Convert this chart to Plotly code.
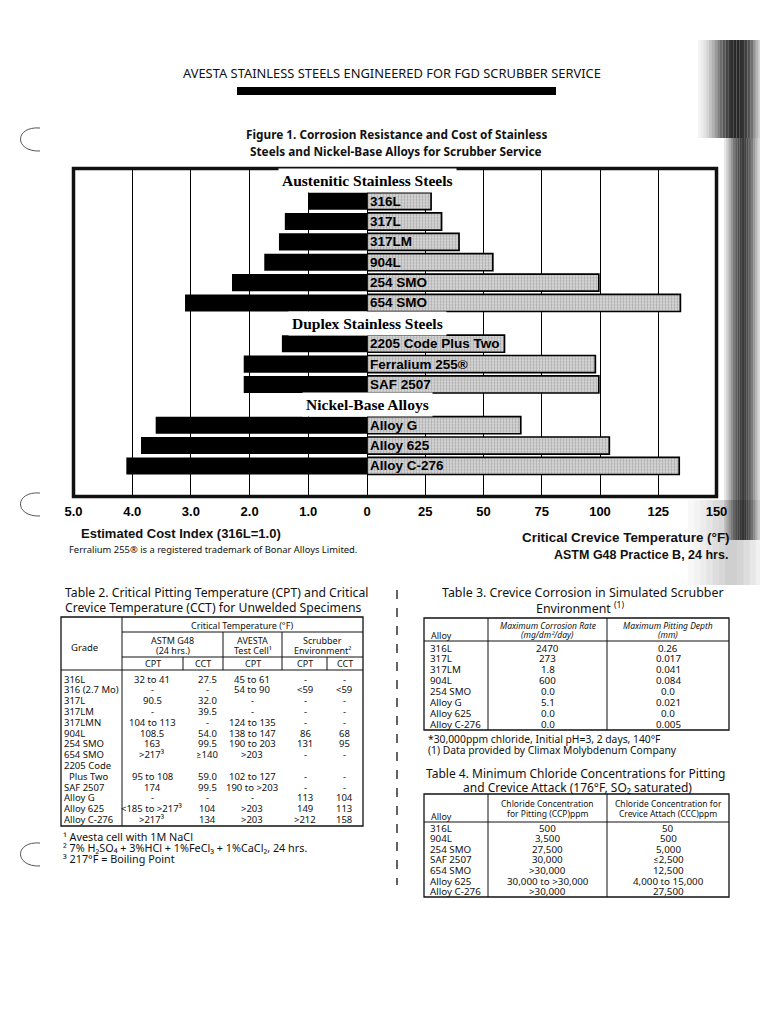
import plotly.graph_objects as go

W, H = 768, 1024
OFF = 8  # the page body margin that shifts the figure inside the browser window

# ---------------- Figure 1 data ----------------
group_names = ["Austenitic Stainless Steels", "Duplex Stainless Steels", "Nickel-Base Alloys"]
alloys = ["316L", "317L", "317LM", "904L", "254 SMO", "654 SMO",
          "2205 Code Plus Two", "Ferralium 255®", "SAF 2507",
          "Alloy G", "Alloy 625", "Alloy C-276"]
alloy_group = [0, 0, 0, 0, 0, 0, 1, 1, 1, 2, 2, 2]
cost_index = [1.0, 1.4, 1.5, 1.75, 2.3, 3.1, 1.45, 2.1, 2.1, 3.6, 3.85, 4.1]
cct_f = [27.5, 32.0, 39.5, 54.0, 99.5, 134.5, 59.0, 98.0, 99.5, 66.0, 104.0, 134.0]
cost_ticks = [5, 4, 3, 2, 1, 0]
cost_tick_text = ["5.0", "4.0", "3.0", "2.0", "1.0", "0"]
temp_ticks = [25, 50, 75, 100, 125, 150]
temp_tick_text = ["25", "50", "75", "100", "125", "150"]

# ---------------- Table 2 data ----------------
t2_grades = ["316L", "316 (2.7 Mo)", "317L", "317LM", "317LMN", "904L", "254 SMO",
             "654 SMO", "2205 Code", "  Plus Two", "SAF 2507", "Alloy G", "Alloy 625", "Alloy C-276"]
t2_astm_cpt = ["32 to 41", "-", "90.5", "-", "104 to 113", "108.5", "163", ">217³", "",
               "95 to 108", "174", "-", "<185 to >217³", ">217³"]
t2_astm_cct = ["27.5", "-", "32.0", "39.5", "-", "54.0", "99.5", "≥140", "",
               "59.0", "99.5", "-", "104", "134"]
t2_avesta_cpt = ["45 to 61", "54 to 90", "-", "-", "124 to 135", "138 to 147", "190 to 203", ">203", "",
                 "102 to 127", "190 to >203", "-", ">203", ">203"]
t2_scr_cpt = ["-", "<59", "-", "-", "-", "86", "131", "-", "", "-", "-", "113", "149", ">212"]
t2_scr_cct = ["-", "<59", "-", "-", "-", "68", "95", "-", "", "-", "-", "104", "113", "158"]
t2_notes = ["¹ Avesta cell with 1M NaCl",
            "² 7% H₂SO₄ + 3%HCl + 1%FeCl₃ + 1%CaCl₂, 24 hrs.",
            "³ 217°F = Boiling Point"]

# ---------------- Table 3 data ----------------
t3_alloys = ["316L", "317L", "317LM", "904L", "254 SMO", "Alloy G", "Alloy 625", "Alloy C-276"]
t3_rate = ["2470", "273", "1.8", "600", "0.0", "5.1", "0.0", "0.0"]
t3_depth = ["0.26", "0.017", "0.041", "0.084", "0.0", "0.021", "0.0", "0.005"]
t3_notes = ["*30,000ppm chloride, Initial pH=3, 2 days, 140°F",
            "(1) Data provided by Climax Molybdenum Company"]

# ---------------- Table 4 data ----------------
t4_alloys = ["316L", "904L", "254 SMO", "SAF 2507", "654 SMO", "Alloy 625", "Alloy C-276"]
t4_ccp = ["500", "3,500", "27,500", "30,000", ">30,000", "30,000 to >30,000", ">30,000"]
t4_ccc = ["50", "500", "5,000", "≤2,500", "12,500", "4,000 to 15,000", "27,500"]

# ---------------- fonts ----------------
SANS = "Liberation Sans, Arial, sans-serif"
SERIF = "Liberation Serif, Times New Roman, serif"
GEO = "Noto Sans, Lato, sans-serif"
INK = "#111111"


def px(x):
    return (x - OFF) / W


def py(y):
    return 1 - (y - OFF) / H


annotations = []
shapes = []


def note(x, y, text, size=10.5, family=GEO, anchor="left", color=INK):
    annotations.append(dict(x=px(x), y=py(y), xref="paper", yref="paper", text=text,
                            showarrow=False, xanchor=anchor, yanchor="middle",
                            borderpad=0, font=dict(family=family, size=size, color=color)))


def hline(x0, x1, y, w=1.0, dash="solid"):
    shapes.append(dict(type="line", xref="paper", yref="paper", x0=px(x0), x1=px(x1),
                       y0=py(y), y1=py(y), line=dict(color=INK, width=w, dash=dash)))


def vline(x, y0, y1, w=1.0, dash="solid"):
    shapes.append(dict(type="line", xref="paper", yref="paper", x0=px(x), x1=px(x),
                       y0=py(y0), y1=py(y1), line=dict(color=INK, width=w, dash=dash)))


def rect(x0, y0, x1, y1, w=1.0, fill=None, opacity=1.0):
    d = dict(type="rect", xref="paper", yref="paper", x0=px(x0), x1=px(x1),
             y0=py(y1), y1=py(y0), opacity=opacity, layer="above")
    d["line"] = dict(color=INK, width=w) if w > 0 else dict(width=0)
    if fill:
        d["fillcolor"] = fill
    shapes.append(d)


# ---------------- chart ----------------
row_order = []
for g, gname in enumerate(group_names):
    row_order.append(gname)
    row_order += [a for a, ag in zip(alloys, alloy_group) if ag == g]

fig = go.Figure()
fig.add_trace(go.Bar(
    y=alloys, x=cost_index, orientation="h", xaxis="x", yaxis="y",
    marker=dict(color="#000000", line=dict(width=0)), width=0.84,
    hoverinfo="skip", showlegend=False))
fig.add_trace(go.Bar(
    y=alloys, x=cct_f, orientation="h", xaxis="x2", yaxis="y",
    marker=dict(color="#dcdcdc", line=dict(color="#000000", width=1.7),
                pattern=dict(shape=".", fgcolor="#7a7a7a", bgcolor="#dcdcdc",
                             size=3, solidity=0.45, fillmode="overlay")),
    width=0.84, text=alloys, textposition="inside", insidetextanchor="start",
    constraintext="none", cliponaxis=False,
    textfont=dict(family=SANS, size=13.5, color="#000000", weight="bold"),
    hoverinfo="skip", showlegend=False))

# frame geometry (pixels in the reference page)
FX0, FX1, FY0, FY1 = 73.5, 716.5, 168.5, 496.5
ZERO_X = 367.0

for g in group_names:
    annotations.append(dict(x=0, y=g, xref="x2", yref="y", text="<b>%s</b>" % g,
                            showarrow=False, xanchor="center", yanchor="middle",
                            bgcolor="white", borderpad=3,
                            font=dict(family=SERIF, size=15.5, color="#000")))

axis_font = dict(family=SANS, size=13, color="#000", weight="bold")
fig.update_layout(
    template="none",
    width=W, height=H, autosize=False,
    margin=dict(l=0, r=0, t=0, b=0, pad=0),
    paper_bgcolor="white", plot_bgcolor="white",
    barmode="overlay", showlegend=False,
    xaxis=dict(domain=[px(FX0), px(ZERO_X)], range=[5, 0], tickvals=cost_ticks,
               ticktext=cost_tick_text, showgrid=True, gridcolor="#000", gridwidth=1.2,
               zeroline=False, showline=False, ticks="", tickfont=axis_font,
               ticklabelstandoff=5,
               anchor="y", fixedrange=True, automargin=False),
    xaxis2=dict(domain=[px(ZERO_X), px(FX1)], range=[0, 150], tickvals=temp_ticks,
                ticktext=temp_tick_text, showgrid=True, gridcolor="#000", gridwidth=1.2,
                zeroline=True, zerolinecolor="#000", zerolinewidth=1.2,
                showline=False, ticks="", tickfont=axis_font, anchor="y",
                ticklabelstandoff=5,
                fixedrange=True, automargin=False),
    yaxis=dict(domain=[py(FY1), py(FY0)], type="category", categoryorder="array",
               categoryarray=row_order, range=[15.5, -0.6], showticklabels=False,
               showgrid=False, zeroline=False, fixedrange=True, automargin=False),
)

# chart frame
rect(FX0, FY0, FX1, FY1, w=3.5)

# axis titles and notes
note(80, 533, "<b>Estimated Cost Index (316L=1.0)</b>", size=13, family=SANS)
note(68, 549, "Ferralium 255® is a registered trademark of Bonar Alloys Limited.", size=9.4)
note(731, 537, "<b>Critical Crevice Temperature (°F)</b>", size=13.4, family=SANS, anchor="right")
note(729, 555, "<b>ASTM G48 Practice B, 24 hrs.</b>", size=12.5, family=SANS, anchor="right")

# ---------------- page header ----------------
note(392, 73, "AVESTA STAINLESS STEELS ENGINEERED FOR FGD SCRUBBER SERVICE", size=12.9, anchor="center")
rect(237, 87, 556, 95, w=0, fill="#000")
note(396, 134, "<b>Figure 1. Corrosion Resistance and Cost of Stainless</b>", size=11.8, anchor="center")
note(396, 151, "<b>Steels and Nickel-Base Alloys for Scrubber Service</b>", size=11.8, anchor="center")

# ---------------- Table 2 ----------------
note(64, 592, "Table 2. Critical Pitting Temperature (CPT) and Critical", size=12.2)
note(64, 607, "Crevice Temperature (CCT) for Unwelded Specimens", size=12.2)
T2L, T2R, T2T, T2B = 61, 363, 617, 826
G1, CP1, AV, SC, CP2 = 122, 183, 223, 282, 327
rect(T2L, T2T, T2R, T2B, w=1.3)
hline(G1, T2R, 632)
hline(G1, T2R, 657)
hline(T2L, T2R, 670)
vline(G1, T2T, T2B)
vline(AV, 632, 670)
vline(SC, 632, 670)
vline(CP1, 657, 670)
vline(CP2, 657, 670)
note((G1 + T2R) / 2, 625, "Critical Temperature (°F)", size=9, anchor="center")
note(70, 647, "Grade", size=9.5)
note((G1 + AV) / 2, 640, "ASTM G48", size=9, anchor="center")
note((G1 + AV) / 2, 650, "(24 hrs.)", size=9, anchor="center")
note((AV + SC) / 2, 640, "AVESTA", size=9, anchor="center")
note((AV + SC) / 2, 650, "Test Cell¹", size=9, anchor="center")
note((SC + T2R) / 2, 640, "Scrubber", size=9, anchor="center")
note((SC + T2R) / 2, 650, "Environment²", size=9, anchor="center")
for cx, lab in [((G1 + CP1) / 2, "CPT"), ((CP1 + AV) / 2, "CCT"), ((AV + SC) / 2, "CPT"),
                ((SC + CP2) / 2, "CPT"), ((CP2 + T2R) / 2, "CCT")]:
    note(cx, 663.5, lab, size=9, anchor="center")
col_x = [152, 207, 252, 305, 344]
for i, grade in enumerate(t2_grades):
    y = 679 + 10.8 * i
    note(63, y, grade, size=9.5)
    for cx, vals in zip(col_x, [t2_astm_cpt, t2_astm_cct, t2_avesta_cpt, t2_scr_cpt, t2_scr_cct]):
        if vals[i]:
            note(cx, y, vals[i], size=9.5, anchor="center")
for i, t in enumerate(t2_notes):
    note(62, 836 + 11 * i, t, size=10.8)

# divider between the columns
vline(397, 590, 885, w=1.3, dash="dash")

# ---------------- Table 3 ----------------
note(583, 592, "Table 3. Crevice Corrosion in Simulated Scrubber", size=12.4, anchor="center")
note(580, 608, "Environment <sup>(1)</sup>", size=12.4, anchor="center")
T3L, T3R, T3T, T3B = 424, 729, 618, 730
C31, C32 = 488, 607
rect(T3L, T3T, T3R, T3B, w=1.3)
hline(T3L, T3R, 641)
vline(C31, T3T, T3B)
vline(C32, T3T, T3B)
note(430, 635, "Alloy", size=9)
note((C31 + C32) / 2, 625, "<i>Maximum Corrosion Rate</i>", size=8.5, anchor="center")
note((C31 + C32) / 2, 634, "<i>(mg/dm²/day)</i>", size=8.5, anchor="center")
note((C32 + T3R) / 2, 625, "<i>Maximum Pitting Depth</i>", size=8.5, anchor="center")
note((C32 + T3R) / 2, 634, "<i>(mm)</i>", size=8.5, anchor="center")
for i, a in enumerate(t3_alloys):
    y = 648 + 10.9 * i
    note(429, y, a, size=9.8)
    note((C31 + C32) / 2, y, t3_rate[i], size=9.8, anchor="center")
    note((C32 + T3R) / 2, y, t3_depth[i], size=9.8, anchor="center")
for i, t in enumerate(t3_notes):
    note(427, 739 + 11 * i, t, size=10.3)

# ---------------- Table 4 ----------------
note(576, 773, "Table 4. Minimum Chloride Concentrations for Pitting", size=12.0, anchor="center")
note(577, 787, "and Crevice Attack (176°F, SO₂ saturated)", size=12.0, anchor="center")
T4L, T4R, T4T, T4B = 424, 729, 794, 897
rect(T4L, T4T, T4R, T4B, w=1.3)
hline(T4L, T4R, 822)
vline(C31, T4T, T4B)
vline(C32, T4T, T4B)
note(430, 816, "Alloy", size=9)
note((C31 + C32) / 2, 803, "Chloride Concentration", size=8.5, anchor="center")
note((C31 + C32) / 2, 813, "for Pitting (CCP)ppm", size=8.5, anchor="center")
note((C32 + T4R) / 2, 803, "Chloride Concentration for", size=8.5, anchor="center")
note((C32 + T4R) / 2, 813, "Crevice Attach (CCC)ppm", size=8.5, anchor="center")
for i, a in enumerate(t4_alloys):
    y = 828 + 10.6 * i
    note(429, y, a, size=9.8)
    note((C31 + C32) / 2, y, t4_ccp[i], size=9.8, anchor="center")
    note((C32 + T4R) / 2, y, t4_ccc[i], size=9.8, anchor="center")


# ---------------- scan artefacts (page decoration) ----------------
def band(x0, x1, y0, y1, profile, color="#111"):
    step = (x1 - x0) / len(profile)
    for i, o in enumerate(profile):
        rect(x0 + i * step, y0, x0 + (i + 1) * step, y1, w=0, fill=color, opacity=o)


band(698, 764, 40, 138, [0.05, 0.08, 0.12, 0.18, 0.25, 0.33, 0.42, 0.52, 0.62, 0.7, 0.78,
                         0.84, 0.88, 0.9, 0.9, 0.88, 0.85, 0.8, 0.72, 0.6, 0.45, 0.3, 0.18, 0.08])
band(724, 762, 138, 540, [0.1, 0.2, 0.32, 0.45, 0.57, 0.67, 0.75, 0.8, 0.82, 0.8, 0.75,
                          0.67, 0.55, 0.42, 0.3, 0.18, 0.08])
band(688, 762, 500, 585, [0.03, 0.05, 0.08, 0.11, 0.14, 0.17, 0.2, 0.2, 0.18, 0.14, 0.1, 0.06])


def punch(cy):
    p = "M %f %f C %f %f %f %f %f %f" % (px(40), py(cy - 12), px(14), py(cy - 14),
                                         px(14), py(cy + 12), px(40), py(cy + 11))
    shapes.append(dict(type="path", xref="paper", yref="paper", path=p,
                       line=dict(color="#555", width=1)))


for cy in [140, 505, 855]:
    punch(cy)

fig.update_layout(annotations=annotations, shapes=shapes)
fig.write_html("out.html")
